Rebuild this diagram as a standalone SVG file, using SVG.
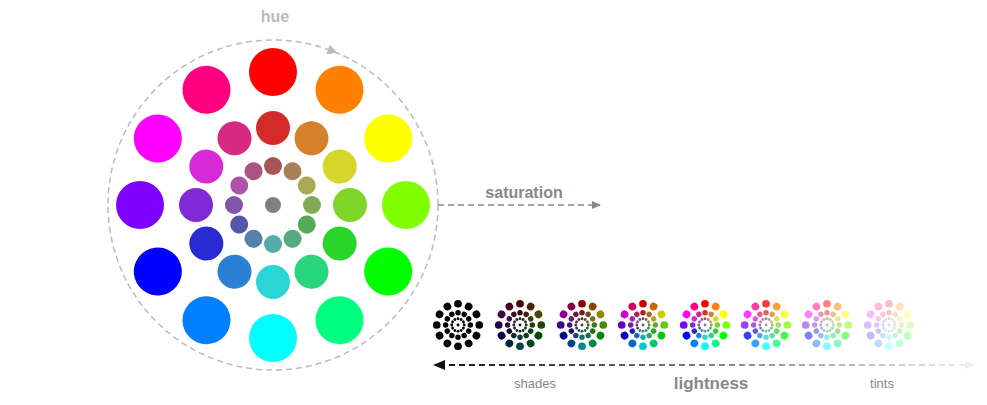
<svg xmlns="http://www.w3.org/2000/svg" width="987" height="405" viewBox="0 0 987 405">
<style>
.lbl{font-family:"Liberation Sans",Arial,sans-serif;fill:#888}
.b{font-weight:bold}
</style>
<defs>
<linearGradient id="lg" gradientUnits="userSpaceOnUse" x1="433" y1="0" x2="975" y2="0">
<stop offset="0" stop-color="#111"/><stop offset="1" stop-color="#eee"/>
</linearGradient>
<marker id="ah" markerWidth="10" markerHeight="10" refX="8" refY="5" orient="auto" markerUnits="userSpaceOnUse"><path d="M0,1 L9,5 L0,9 Z" fill="#888"/></marker>
</defs>
<rect width="987" height="405" fill="#fff"/>
<g id="connectors">
<circle cx="273" cy="205" r="165" fill="none" stroke="#bbb" stroke-width="1.5" stroke-dasharray="6,4"/>
<polygon points="0,-5 10,0 0,5" fill="#bbb" transform="rotate(19.5 273 205) translate(273 40)"/>
<line x1="438" y1="205" x2="600" y2="205" stroke="#888" stroke-width="1.5" stroke-dasharray="6,4" marker-end="url(#ah)"/>
<line x1="975" y1="365" x2="445" y2="365" stroke="url(#lg)" stroke-width="1.8" stroke-dasharray="6,4"/>
<polygon points="433,365 445,360 445,370" fill="#111"/>
<polygon points="975,365 965,361 965,369" fill="#eee"/>
</g>
<g id="labels">
<text class="lbl b" x="275" y="22" font-size="16" text-anchor="middle" fill="#bbb" style="fill:#bbb">hue</text>
<text class="lbl b" x="524" y="198" font-size="16" text-anchor="middle">saturation</text>
<text class="lbl" x="535" y="388" font-size="13" text-anchor="middle">shades</text>
<text class="lbl b" x="711" y="389" font-size="17" text-anchor="middle">lightness</text>
<text class="lbl" x="882" y="388" font-size="13" text-anchor="middle">tints</text>
</g>
<g id="wheel-main" transform="translate(273,205)">
<circle r="8" fill="hsl(0,0%,50%)"/>
<g transform="rotate(0)"><circle cy="-133" r="24" fill="hsl(0,100%,50%)"/><circle cy="-77" r="17" fill="hsl(0,67%,50%)"/><circle cy="-39" r="9" fill="hsl(0,33%,50%)"/></g>
<g transform="rotate(30)"><circle cy="-133" r="24" fill="hsl(30,100%,50%)"/><circle cy="-77" r="17" fill="hsl(30,67%,50%)"/><circle cy="-39" r="9" fill="hsl(30,33%,50%)"/></g>
<g transform="rotate(60)"><circle cy="-133" r="24" fill="hsl(60,100%,50%)"/><circle cy="-77" r="17" fill="hsl(60,67%,50%)"/><circle cy="-39" r="9" fill="hsl(60,33%,50%)"/></g>
<g transform="rotate(90)"><circle cy="-133" r="24" fill="hsl(90,100%,50%)"/><circle cy="-77" r="17" fill="hsl(90,67%,50%)"/><circle cy="-39" r="9" fill="hsl(90,33%,50%)"/></g>
<g transform="rotate(120)"><circle cy="-133" r="24" fill="hsl(120,100%,50%)"/><circle cy="-77" r="17" fill="hsl(120,67%,50%)"/><circle cy="-39" r="9" fill="hsl(120,33%,50%)"/></g>
<g transform="rotate(150)"><circle cy="-133" r="24" fill="hsl(150,100%,50%)"/><circle cy="-77" r="17" fill="hsl(150,67%,50%)"/><circle cy="-39" r="9" fill="hsl(150,33%,50%)"/></g>
<g transform="rotate(180)"><circle cy="-133" r="24" fill="hsl(180,100%,50%)"/><circle cy="-77" r="17" fill="hsl(180,67%,50%)"/><circle cy="-39" r="9" fill="hsl(180,33%,50%)"/></g>
<g transform="rotate(210)"><circle cy="-133" r="24" fill="hsl(210,100%,50%)"/><circle cy="-77" r="17" fill="hsl(210,67%,50%)"/><circle cy="-39" r="9" fill="hsl(210,33%,50%)"/></g>
<g transform="rotate(240)"><circle cy="-133" r="24" fill="hsl(240,100%,50%)"/><circle cy="-77" r="17" fill="hsl(240,67%,50%)"/><circle cy="-39" r="9" fill="hsl(240,33%,50%)"/></g>
<g transform="rotate(270)"><circle cy="-133" r="24" fill="hsl(270,100%,50%)"/><circle cy="-77" r="17" fill="hsl(270,67%,50%)"/><circle cy="-39" r="9" fill="hsl(270,33%,50%)"/></g>
<g transform="rotate(300)"><circle cy="-133" r="24" fill="hsl(300,100%,50%)"/><circle cy="-77" r="17" fill="hsl(300,67%,50%)"/><circle cy="-39" r="9" fill="hsl(300,33%,50%)"/></g>
<g transform="rotate(330)"><circle cy="-133" r="24" fill="hsl(330,100%,50%)"/><circle cy="-77" r="17" fill="hsl(330,67%,50%)"/><circle cy="-39" r="9" fill="hsl(330,33%,50%)"/></g>
</g>
<g id="wheel-l0" transform="translate(458,325) scale(0.16)" fill="#000">
<circle r="9"/>
<g transform="rotate(0)"><circle cy="-133" r="24"/><circle cy="-77" r="17"/><circle cy="-39" r="9"/></g>
<g transform="rotate(30)"><circle cy="-133" r="24"/><circle cy="-77" r="17"/><circle cy="-39" r="9"/></g>
<g transform="rotate(60)"><circle cy="-133" r="24"/><circle cy="-77" r="17"/><circle cy="-39" r="9"/></g>
<g transform="rotate(90)"><circle cy="-133" r="24"/><circle cy="-77" r="17"/><circle cy="-39" r="9"/></g>
<g transform="rotate(120)"><circle cy="-133" r="24"/><circle cy="-77" r="17"/><circle cy="-39" r="9"/></g>
<g transform="rotate(150)"><circle cy="-133" r="24"/><circle cy="-77" r="17"/><circle cy="-39" r="9"/></g>
<g transform="rotate(180)"><circle cy="-133" r="24"/><circle cy="-77" r="17"/><circle cy="-39" r="9"/></g>
<g transform="rotate(210)"><circle cy="-133" r="24"/><circle cy="-77" r="17"/><circle cy="-39" r="9"/></g>
<g transform="rotate(240)"><circle cy="-133" r="24"/><circle cy="-77" r="17"/><circle cy="-39" r="9"/></g>
<g transform="rotate(270)"><circle cy="-133" r="24"/><circle cy="-77" r="17"/><circle cy="-39" r="9"/></g>
<g transform="rotate(300)"><circle cy="-133" r="24"/><circle cy="-77" r="17"/><circle cy="-39" r="9"/></g>
<g transform="rotate(330)"><circle cy="-133" r="24"/><circle cy="-77" r="17"/><circle cy="-39" r="9"/></g>
</g>
<g id="wheel-l14" transform="translate(520,325) scale(0.16)">
<circle r="9" fill="hsl(0,0%,14%)"/>
<g transform="rotate(0)"><circle cy="-133" r="24" fill="hsl(0,100%,14%)"/><circle cy="-77" r="17" fill="hsl(0,67%,14%)"/><circle cy="-39" r="9" fill="hsl(0,33%,14%)"/></g>
<g transform="rotate(30)"><circle cy="-133" r="24" fill="hsl(30,100%,14%)"/><circle cy="-77" r="17" fill="hsl(30,67%,14%)"/><circle cy="-39" r="9" fill="hsl(30,33%,14%)"/></g>
<g transform="rotate(60)"><circle cy="-133" r="24" fill="hsl(60,100%,14%)"/><circle cy="-77" r="17" fill="hsl(60,67%,14%)"/><circle cy="-39" r="9" fill="hsl(60,33%,14%)"/></g>
<g transform="rotate(90)"><circle cy="-133" r="24" fill="hsl(90,100%,14%)"/><circle cy="-77" r="17" fill="hsl(90,67%,14%)"/><circle cy="-39" r="9" fill="hsl(90,33%,14%)"/></g>
<g transform="rotate(120)"><circle cy="-133" r="24" fill="hsl(120,100%,14%)"/><circle cy="-77" r="17" fill="hsl(120,67%,14%)"/><circle cy="-39" r="9" fill="hsl(120,33%,14%)"/></g>
<g transform="rotate(150)"><circle cy="-133" r="24" fill="hsl(150,100%,14%)"/><circle cy="-77" r="17" fill="hsl(150,67%,14%)"/><circle cy="-39" r="9" fill="hsl(150,33%,14%)"/></g>
<g transform="rotate(180)"><circle cy="-133" r="24" fill="hsl(180,100%,14%)"/><circle cy="-77" r="17" fill="hsl(180,67%,14%)"/><circle cy="-39" r="9" fill="hsl(180,33%,14%)"/></g>
<g transform="rotate(210)"><circle cy="-133" r="24" fill="hsl(210,100%,14%)"/><circle cy="-77" r="17" fill="hsl(210,67%,14%)"/><circle cy="-39" r="9" fill="hsl(210,33%,14%)"/></g>
<g transform="rotate(240)"><circle cy="-133" r="24" fill="hsl(240,100%,14%)"/><circle cy="-77" r="17" fill="hsl(240,67%,14%)"/><circle cy="-39" r="9" fill="hsl(240,33%,14%)"/></g>
<g transform="rotate(270)"><circle cy="-133" r="24" fill="hsl(270,100%,14%)"/><circle cy="-77" r="17" fill="hsl(270,67%,14%)"/><circle cy="-39" r="9" fill="hsl(270,33%,14%)"/></g>
<g transform="rotate(300)"><circle cy="-133" r="24" fill="hsl(300,100%,14%)"/><circle cy="-77" r="17" fill="hsl(300,67%,14%)"/><circle cy="-39" r="9" fill="hsl(300,33%,14%)"/></g>
<g transform="rotate(330)"><circle cy="-133" r="24" fill="hsl(330,100%,14%)"/><circle cy="-77" r="17" fill="hsl(330,67%,14%)"/><circle cy="-39" r="9" fill="hsl(330,33%,14%)"/></g>
</g>
<g id="wheel-l27" transform="translate(582,325) scale(0.16)">
<circle r="9" fill="hsl(0,0%,27%)"/>
<g transform="rotate(0)"><circle cy="-133" r="24" fill="hsl(0,100%,27%)"/><circle cy="-77" r="17" fill="hsl(0,67%,27%)"/><circle cy="-39" r="9" fill="hsl(0,33%,27%)"/></g>
<g transform="rotate(30)"><circle cy="-133" r="24" fill="hsl(30,100%,27%)"/><circle cy="-77" r="17" fill="hsl(30,67%,27%)"/><circle cy="-39" r="9" fill="hsl(30,33%,27%)"/></g>
<g transform="rotate(60)"><circle cy="-133" r="24" fill="hsl(60,100%,27%)"/><circle cy="-77" r="17" fill="hsl(60,67%,27%)"/><circle cy="-39" r="9" fill="hsl(60,33%,27%)"/></g>
<g transform="rotate(90)"><circle cy="-133" r="24" fill="hsl(90,100%,27%)"/><circle cy="-77" r="17" fill="hsl(90,67%,27%)"/><circle cy="-39" r="9" fill="hsl(90,33%,27%)"/></g>
<g transform="rotate(120)"><circle cy="-133" r="24" fill="hsl(120,100%,27%)"/><circle cy="-77" r="17" fill="hsl(120,67%,27%)"/><circle cy="-39" r="9" fill="hsl(120,33%,27%)"/></g>
<g transform="rotate(150)"><circle cy="-133" r="24" fill="hsl(150,100%,27%)"/><circle cy="-77" r="17" fill="hsl(150,67%,27%)"/><circle cy="-39" r="9" fill="hsl(150,33%,27%)"/></g>
<g transform="rotate(180)"><circle cy="-133" r="24" fill="hsl(180,100%,27%)"/><circle cy="-77" r="17" fill="hsl(180,67%,27%)"/><circle cy="-39" r="9" fill="hsl(180,33%,27%)"/></g>
<g transform="rotate(210)"><circle cy="-133" r="24" fill="hsl(210,100%,27%)"/><circle cy="-77" r="17" fill="hsl(210,67%,27%)"/><circle cy="-39" r="9" fill="hsl(210,33%,27%)"/></g>
<g transform="rotate(240)"><circle cy="-133" r="24" fill="hsl(240,100%,27%)"/><circle cy="-77" r="17" fill="hsl(240,67%,27%)"/><circle cy="-39" r="9" fill="hsl(240,33%,27%)"/></g>
<g transform="rotate(270)"><circle cy="-133" r="24" fill="hsl(270,100%,27%)"/><circle cy="-77" r="17" fill="hsl(270,67%,27%)"/><circle cy="-39" r="9" fill="hsl(270,33%,27%)"/></g>
<g transform="rotate(300)"><circle cy="-133" r="24" fill="hsl(300,100%,27%)"/><circle cy="-77" r="17" fill="hsl(300,67%,27%)"/><circle cy="-39" r="9" fill="hsl(300,33%,27%)"/></g>
<g transform="rotate(330)"><circle cy="-133" r="24" fill="hsl(330,100%,27%)"/><circle cy="-77" r="17" fill="hsl(330,67%,27%)"/><circle cy="-39" r="9" fill="hsl(330,33%,27%)"/></g>
</g>
<g id="wheel-l40" transform="translate(643,325) scale(0.16)">
<circle r="9" fill="hsl(0,0%,40%)"/>
<g transform="rotate(0)"><circle cy="-133" r="24" fill="hsl(0,100%,40%)"/><circle cy="-77" r="17" fill="hsl(0,67%,40%)"/><circle cy="-39" r="9" fill="hsl(0,33%,40%)"/></g>
<g transform="rotate(30)"><circle cy="-133" r="24" fill="hsl(30,100%,40%)"/><circle cy="-77" r="17" fill="hsl(30,67%,40%)"/><circle cy="-39" r="9" fill="hsl(30,33%,40%)"/></g>
<g transform="rotate(60)"><circle cy="-133" r="24" fill="hsl(60,100%,40%)"/><circle cy="-77" r="17" fill="hsl(60,67%,40%)"/><circle cy="-39" r="9" fill="hsl(60,33%,40%)"/></g>
<g transform="rotate(90)"><circle cy="-133" r="24" fill="hsl(90,100%,40%)"/><circle cy="-77" r="17" fill="hsl(90,67%,40%)"/><circle cy="-39" r="9" fill="hsl(90,33%,40%)"/></g>
<g transform="rotate(120)"><circle cy="-133" r="24" fill="hsl(120,100%,40%)"/><circle cy="-77" r="17" fill="hsl(120,67%,40%)"/><circle cy="-39" r="9" fill="hsl(120,33%,40%)"/></g>
<g transform="rotate(150)"><circle cy="-133" r="24" fill="hsl(150,100%,40%)"/><circle cy="-77" r="17" fill="hsl(150,67%,40%)"/><circle cy="-39" r="9" fill="hsl(150,33%,40%)"/></g>
<g transform="rotate(180)"><circle cy="-133" r="24" fill="hsl(180,100%,40%)"/><circle cy="-77" r="17" fill="hsl(180,67%,40%)"/><circle cy="-39" r="9" fill="hsl(180,33%,40%)"/></g>
<g transform="rotate(210)"><circle cy="-133" r="24" fill="hsl(210,100%,40%)"/><circle cy="-77" r="17" fill="hsl(210,67%,40%)"/><circle cy="-39" r="9" fill="hsl(210,33%,40%)"/></g>
<g transform="rotate(240)"><circle cy="-133" r="24" fill="hsl(240,100%,40%)"/><circle cy="-77" r="17" fill="hsl(240,67%,40%)"/><circle cy="-39" r="9" fill="hsl(240,33%,40%)"/></g>
<g transform="rotate(270)"><circle cy="-133" r="24" fill="hsl(270,100%,40%)"/><circle cy="-77" r="17" fill="hsl(270,67%,40%)"/><circle cy="-39" r="9" fill="hsl(270,33%,40%)"/></g>
<g transform="rotate(300)"><circle cy="-133" r="24" fill="hsl(300,100%,40%)"/><circle cy="-77" r="17" fill="hsl(300,67%,40%)"/><circle cy="-39" r="9" fill="hsl(300,33%,40%)"/></g>
<g transform="rotate(330)"><circle cy="-133" r="24" fill="hsl(330,100%,40%)"/><circle cy="-77" r="17" fill="hsl(330,67%,40%)"/><circle cy="-39" r="9" fill="hsl(330,33%,40%)"/></g>
</g>
<g id="wheel-l50" transform="translate(705,325) scale(0.16)">
<circle r="9" fill="hsl(0,0%,50%)"/>
<g transform="rotate(0)"><circle cy="-133" r="24" fill="hsl(0,100%,50%)"/><circle cy="-77" r="17" fill="hsl(0,67%,50%)"/><circle cy="-39" r="9" fill="hsl(0,33%,50%)"/></g>
<g transform="rotate(30)"><circle cy="-133" r="24" fill="hsl(30,100%,50%)"/><circle cy="-77" r="17" fill="hsl(30,67%,50%)"/><circle cy="-39" r="9" fill="hsl(30,33%,50%)"/></g>
<g transform="rotate(60)"><circle cy="-133" r="24" fill="hsl(60,100%,50%)"/><circle cy="-77" r="17" fill="hsl(60,67%,50%)"/><circle cy="-39" r="9" fill="hsl(60,33%,50%)"/></g>
<g transform="rotate(90)"><circle cy="-133" r="24" fill="hsl(90,100%,50%)"/><circle cy="-77" r="17" fill="hsl(90,67%,50%)"/><circle cy="-39" r="9" fill="hsl(90,33%,50%)"/></g>
<g transform="rotate(120)"><circle cy="-133" r="24" fill="hsl(120,100%,50%)"/><circle cy="-77" r="17" fill="hsl(120,67%,50%)"/><circle cy="-39" r="9" fill="hsl(120,33%,50%)"/></g>
<g transform="rotate(150)"><circle cy="-133" r="24" fill="hsl(150,100%,50%)"/><circle cy="-77" r="17" fill="hsl(150,67%,50%)"/><circle cy="-39" r="9" fill="hsl(150,33%,50%)"/></g>
<g transform="rotate(180)"><circle cy="-133" r="24" fill="hsl(180,100%,50%)"/><circle cy="-77" r="17" fill="hsl(180,67%,50%)"/><circle cy="-39" r="9" fill="hsl(180,33%,50%)"/></g>
<g transform="rotate(210)"><circle cy="-133" r="24" fill="hsl(210,100%,50%)"/><circle cy="-77" r="17" fill="hsl(210,67%,50%)"/><circle cy="-39" r="9" fill="hsl(210,33%,50%)"/></g>
<g transform="rotate(240)"><circle cy="-133" r="24" fill="hsl(240,100%,50%)"/><circle cy="-77" r="17" fill="hsl(240,67%,50%)"/><circle cy="-39" r="9" fill="hsl(240,33%,50%)"/></g>
<g transform="rotate(270)"><circle cy="-133" r="24" fill="hsl(270,100%,50%)"/><circle cy="-77" r="17" fill="hsl(270,67%,50%)"/><circle cy="-39" r="9" fill="hsl(270,33%,50%)"/></g>
<g transform="rotate(300)"><circle cy="-133" r="24" fill="hsl(300,100%,50%)"/><circle cy="-77" r="17" fill="hsl(300,67%,50%)"/><circle cy="-39" r="9" fill="hsl(300,33%,50%)"/></g>
<g transform="rotate(330)"><circle cy="-133" r="24" fill="hsl(330,100%,50%)"/><circle cy="-77" r="17" fill="hsl(330,67%,50%)"/><circle cy="-39" r="9" fill="hsl(330,33%,50%)"/></g>
</g>
<g id="wheel-l62" transform="translate(766,325) scale(0.16)">
<circle r="9" fill="hsl(0,0%,62%)"/>
<g transform="rotate(0)"><circle cy="-133" r="24" fill="hsl(0,100%,62%)"/><circle cy="-77" r="17" fill="hsl(0,67%,62%)"/><circle cy="-39" r="9" fill="hsl(0,33%,62%)"/></g>
<g transform="rotate(30)"><circle cy="-133" r="24" fill="hsl(30,100%,62%)"/><circle cy="-77" r="17" fill="hsl(30,67%,62%)"/><circle cy="-39" r="9" fill="hsl(30,33%,62%)"/></g>
<g transform="rotate(60)"><circle cy="-133" r="24" fill="hsl(60,100%,62%)"/><circle cy="-77" r="17" fill="hsl(60,67%,62%)"/><circle cy="-39" r="9" fill="hsl(60,33%,62%)"/></g>
<g transform="rotate(90)"><circle cy="-133" r="24" fill="hsl(90,100%,62%)"/><circle cy="-77" r="17" fill="hsl(90,67%,62%)"/><circle cy="-39" r="9" fill="hsl(90,33%,62%)"/></g>
<g transform="rotate(120)"><circle cy="-133" r="24" fill="hsl(120,100%,62%)"/><circle cy="-77" r="17" fill="hsl(120,67%,62%)"/><circle cy="-39" r="9" fill="hsl(120,33%,62%)"/></g>
<g transform="rotate(150)"><circle cy="-133" r="24" fill="hsl(150,100%,62%)"/><circle cy="-77" r="17" fill="hsl(150,67%,62%)"/><circle cy="-39" r="9" fill="hsl(150,33%,62%)"/></g>
<g transform="rotate(180)"><circle cy="-133" r="24" fill="hsl(180,100%,62%)"/><circle cy="-77" r="17" fill="hsl(180,67%,62%)"/><circle cy="-39" r="9" fill="hsl(180,33%,62%)"/></g>
<g transform="rotate(210)"><circle cy="-133" r="24" fill="hsl(210,100%,62%)"/><circle cy="-77" r="17" fill="hsl(210,67%,62%)"/><circle cy="-39" r="9" fill="hsl(210,33%,62%)"/></g>
<g transform="rotate(240)"><circle cy="-133" r="24" fill="hsl(240,100%,62%)"/><circle cy="-77" r="17" fill="hsl(240,67%,62%)"/><circle cy="-39" r="9" fill="hsl(240,33%,62%)"/></g>
<g transform="rotate(270)"><circle cy="-133" r="24" fill="hsl(270,100%,62%)"/><circle cy="-77" r="17" fill="hsl(270,67%,62%)"/><circle cy="-39" r="9" fill="hsl(270,33%,62%)"/></g>
<g transform="rotate(300)"><circle cy="-133" r="24" fill="hsl(300,100%,62%)"/><circle cy="-77" r="17" fill="hsl(300,67%,62%)"/><circle cy="-39" r="9" fill="hsl(300,33%,62%)"/></g>
<g transform="rotate(330)"><circle cy="-133" r="24" fill="hsl(330,100%,62%)"/><circle cy="-77" r="17" fill="hsl(330,67%,62%)"/><circle cy="-39" r="9" fill="hsl(330,33%,62%)"/></g>
</g>
<g id="wheel-l75" transform="translate(827,325) scale(0.16)">
<circle r="9" fill="hsl(0,0%,75%)"/>
<g transform="rotate(0)"><circle cy="-133" r="24" fill="hsl(0,100%,75%)"/><circle cy="-77" r="17" fill="hsl(0,67%,75%)"/><circle cy="-39" r="9" fill="hsl(0,33%,75%)"/></g>
<g transform="rotate(30)"><circle cy="-133" r="24" fill="hsl(30,100%,75%)"/><circle cy="-77" r="17" fill="hsl(30,67%,75%)"/><circle cy="-39" r="9" fill="hsl(30,33%,75%)"/></g>
<g transform="rotate(60)"><circle cy="-133" r="24" fill="hsl(60,100%,75%)"/><circle cy="-77" r="17" fill="hsl(60,67%,75%)"/><circle cy="-39" r="9" fill="hsl(60,33%,75%)"/></g>
<g transform="rotate(90)"><circle cy="-133" r="24" fill="hsl(90,100%,75%)"/><circle cy="-77" r="17" fill="hsl(90,67%,75%)"/><circle cy="-39" r="9" fill="hsl(90,33%,75%)"/></g>
<g transform="rotate(120)"><circle cy="-133" r="24" fill="hsl(120,100%,75%)"/><circle cy="-77" r="17" fill="hsl(120,67%,75%)"/><circle cy="-39" r="9" fill="hsl(120,33%,75%)"/></g>
<g transform="rotate(150)"><circle cy="-133" r="24" fill="hsl(150,100%,75%)"/><circle cy="-77" r="17" fill="hsl(150,67%,75%)"/><circle cy="-39" r="9" fill="hsl(150,33%,75%)"/></g>
<g transform="rotate(180)"><circle cy="-133" r="24" fill="hsl(180,100%,75%)"/><circle cy="-77" r="17" fill="hsl(180,67%,75%)"/><circle cy="-39" r="9" fill="hsl(180,33%,75%)"/></g>
<g transform="rotate(210)"><circle cy="-133" r="24" fill="hsl(210,100%,75%)"/><circle cy="-77" r="17" fill="hsl(210,67%,75%)"/><circle cy="-39" r="9" fill="hsl(210,33%,75%)"/></g>
<g transform="rotate(240)"><circle cy="-133" r="24" fill="hsl(240,100%,75%)"/><circle cy="-77" r="17" fill="hsl(240,67%,75%)"/><circle cy="-39" r="9" fill="hsl(240,33%,75%)"/></g>
<g transform="rotate(270)"><circle cy="-133" r="24" fill="hsl(270,100%,75%)"/><circle cy="-77" r="17" fill="hsl(270,67%,75%)"/><circle cy="-39" r="9" fill="hsl(270,33%,75%)"/></g>
<g transform="rotate(300)"><circle cy="-133" r="24" fill="hsl(300,100%,75%)"/><circle cy="-77" r="17" fill="hsl(300,67%,75%)"/><circle cy="-39" r="9" fill="hsl(300,33%,75%)"/></g>
<g transform="rotate(330)"><circle cy="-133" r="24" fill="hsl(330,100%,75%)"/><circle cy="-77" r="17" fill="hsl(330,67%,75%)"/><circle cy="-39" r="9" fill="hsl(330,33%,75%)"/></g>
</g>
<g id="wheel-l87" transform="translate(889,325) scale(0.16)">
<circle r="9" fill="hsl(0,0%,87%)"/>
<g transform="rotate(0)"><circle cy="-133" r="24" fill="hsl(0,100%,87%)"/><circle cy="-77" r="17" fill="hsl(0,67%,87%)"/><circle cy="-39" r="9" fill="hsl(0,33%,87%)"/></g>
<g transform="rotate(30)"><circle cy="-133" r="24" fill="hsl(30,100%,87%)"/><circle cy="-77" r="17" fill="hsl(30,67%,87%)"/><circle cy="-39" r="9" fill="hsl(30,33%,87%)"/></g>
<g transform="rotate(60)"><circle cy="-133" r="24" fill="hsl(60,100%,87%)"/><circle cy="-77" r="17" fill="hsl(60,67%,87%)"/><circle cy="-39" r="9" fill="hsl(60,33%,87%)"/></g>
<g transform="rotate(90)"><circle cy="-133" r="24" fill="hsl(90,100%,87%)"/><circle cy="-77" r="17" fill="hsl(90,67%,87%)"/><circle cy="-39" r="9" fill="hsl(90,33%,87%)"/></g>
<g transform="rotate(120)"><circle cy="-133" r="24" fill="hsl(120,100%,87%)"/><circle cy="-77" r="17" fill="hsl(120,67%,87%)"/><circle cy="-39" r="9" fill="hsl(120,33%,87%)"/></g>
<g transform="rotate(150)"><circle cy="-133" r="24" fill="hsl(150,100%,87%)"/><circle cy="-77" r="17" fill="hsl(150,67%,87%)"/><circle cy="-39" r="9" fill="hsl(150,33%,87%)"/></g>
<g transform="rotate(180)"><circle cy="-133" r="24" fill="hsl(180,100%,87%)"/><circle cy="-77" r="17" fill="hsl(180,67%,87%)"/><circle cy="-39" r="9" fill="hsl(180,33%,87%)"/></g>
<g transform="rotate(210)"><circle cy="-133" r="24" fill="hsl(210,100%,87%)"/><circle cy="-77" r="17" fill="hsl(210,67%,87%)"/><circle cy="-39" r="9" fill="hsl(210,33%,87%)"/></g>
<g transform="rotate(240)"><circle cy="-133" r="24" fill="hsl(240,100%,87%)"/><circle cy="-77" r="17" fill="hsl(240,67%,87%)"/><circle cy="-39" r="9" fill="hsl(240,33%,87%)"/></g>
<g transform="rotate(270)"><circle cy="-133" r="24" fill="hsl(270,100%,87%)"/><circle cy="-77" r="17" fill="hsl(270,67%,87%)"/><circle cy="-39" r="9" fill="hsl(270,33%,87%)"/></g>
<g transform="rotate(300)"><circle cy="-133" r="24" fill="hsl(300,100%,87%)"/><circle cy="-77" r="17" fill="hsl(300,67%,87%)"/><circle cy="-39" r="9" fill="hsl(300,33%,87%)"/></g>
<g transform="rotate(330)"><circle cy="-133" r="24" fill="hsl(330,100%,87%)"/><circle cy="-77" r="17" fill="hsl(330,67%,87%)"/><circle cy="-39" r="9" fill="hsl(330,33%,87%)"/></g>
</g>
</svg>
